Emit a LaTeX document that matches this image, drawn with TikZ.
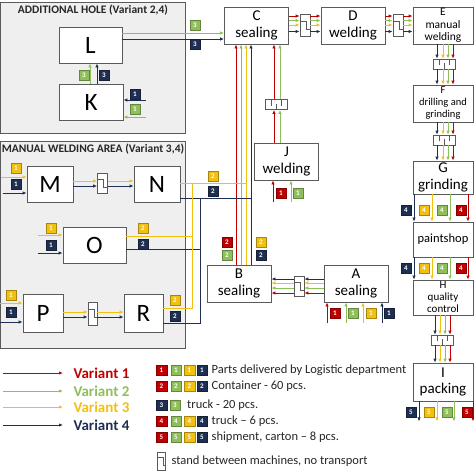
\documentclass[tikz,border=0pt]{standalone}
\usepackage{fontspec}
\setmainfont{Carlito}
\usetikzlibrary{arrows.meta,positioning}

\definecolor{vred}{HTML}{C00000}
\definecolor{vgreen}{HTML}{8FBF5A}
\definecolor{vyellow}{HTML}{F2C010}
\definecolor{vnavy}{HTML}{1F2F52}
\definecolor{areagray}{HTML}{EFEFEF}
\definecolor{boxline}{HTML}{5A5A5A}

\tikzset{
  flow/.style={line width=1pt, -{Latex[length=4pt,width=3.4pt]}},
  lane/.style={line width=1pt},
  c1/.style={draw=vred}, c2/.style={draw=vgreen},
  c3/.style={draw=vyellow}, c4/.style={draw=vnavy},
  area/.style={draw=boxline, fill=areagray, line width=0.8pt},
  areatitle/.style={font=\fontsize{11.5}{12}\selectfont\bfseries, text=black!85},
  machine/.style={draw=boxline, fill=white, line width=0.8pt, align=center,
    inner sep=0pt, font=\fontsize{15}{16.5}\selectfont},
  wide/.style={minimum width=64pt, minimum height=37pt},
  bigbox/.style={machine, font=\fontsize{25}{26}\selectfont},
  badge/.style={draw=#1!70!black, fill=#1, text=white,
    font=\fontsize{7}{7}\selectfont\bfseries, minimum size=10.5pt,
    inner sep=0pt, line width=0.4pt},
  standh/.style={draw=boxline, fill=white, line width=0.7pt, minimum width=10pt,
    minimum height=22pt, inner sep=0pt,
    path picture={\draw[boxline, line width=0.7pt]
      ([yshift=4pt]path picture bounding box.west) -- ++(6pt,0pt) -- ++(0pt,-8pt)
      -- ([yshift=-4pt]path picture bounding box.east);}},
  standv/.style={draw=boxline, fill=white, line width=0.7pt, minimum width=22pt,
    minimum height=10pt, inner sep=0pt,
    path picture={\draw[boxline, line width=0.7pt]
      ([xshift=-5pt]path picture bounding box.north) -- ++(0pt,-6pt)
      ([xshift=5pt]path picture bounding box.north) -- ++(0pt,-6pt)
      (path picture bounding box.south) -- ++(0pt,6pt);}},
  legendtxt/.style={font=\fontsize{12.5}{13}\selectfont, text=black!85, inner sep=0pt},
  legendvar/.style={font=\fontsize{15}{16}\selectfont\bfseries, inner sep=0pt}
}

\begin{document}
\begin{tikzpicture}[x=1pt,y=-1pt]
\useasboundingbox (0,0) rectangle (474,474);

% areas
\draw[area] (0.5,2.5) rectangle (185,133);
\node[areatitle] (tHole) at (93,10) {ADDITIONAL HOLE (Variant 2,4)};
\draw[area] (0.5,141) rectangle (185,348);
\node[areatitle] (tWeld) at (93,149) {MANUAL WELDING AREA (Variant 3,4)};

% machines
\node[bigbox, minimum width=63pt, minimum height=36pt] (L) at (90.5,45) {L};
\node[bigbox, minimum width=64pt, minimum height=36pt] (K) at (91,102) {K};
\node[bigbox, minimum width=46pt, minimum height=36pt] (M) at (50,184) {M};
\node[bigbox, minimum width=46pt, minimum height=36pt] (N) at (157,184) {N};
\node[bigbox, minimum width=63pt, minimum height=36pt] (O) at (94.5,245) {O};
\node[bigbox, minimum width=40pt, minimum height=38pt] (P) at (43,313) {P};
\node[bigbox, minimum width=39pt, minimum height=38pt] (R) at (143.5,313) {R};

\node[machine, wide] (C) at (256.5,25.5) {C\\sealing};
\node[machine, wide] (D) at (353,25.5) {D\\welding};
\node[machine, minimum width=60pt, minimum height=37pt,
  font=\fontsize{11.5}{12.5}\selectfont] (E) at (443,25.5) {E\\manual\\welding};
\node[machine, minimum width=60pt, minimum height=37pt,
  font=\fontsize{10.5}{12}\selectfont] (F) at (443,103.5) {F\\drilling and\\grinding};
\node[machine, minimum width=60pt, minimum height=33pt] (G) at (443,177.5) {G\\grinding};
\node[machine, minimum width=60pt, minimum height=35pt,
  font=\fontsize{12.5}{13}\selectfont] (paint) at (443,239.5) {paintshop};
\node[machine, minimum width=60pt, minimum height=35pt,
  font=\fontsize{11}{12}\selectfont] (H) at (443,297.5) {H\\quality\\control};
\node[machine, minimum width=60pt, minimum height=38pt] (I) at (443,382) {I\\packing};
\node[machine, wide] (J) at (286.5,161.5) {J\\welding};
\node[machine, wide] (B) at (239,283.5) {B\\sealing};
\node[machine, wide] (A) at (356,283.5) {A\\sealing};

% stands
\node[standh] (sCD) at (305,25.5) {};
\node[standh] (sDE) at (398,25.5) {};
\node[standv] (sEF) at (444,64) {};
\node[standv] (sFG) at (444,140) {};
\node[standv] (sHI) at (442,340) {};
\node[standv] (sJC) at (276.5,104.5) {};
\node[standh, minimum height=20pt] (sAB) at (299,286) {};
\node[standh, minimum height=20pt] (sMN) at (102.5,183.5) {};
\node[standh, minimum width=9pt, minimum height=23pt] (sPR) at (92.5,313.5) {};

% additional hole
\draw[flow,c4] ([xshift=23pt,yshift=2pt]K.east) -- ([yshift=2pt]K.east);
\draw[flow,c2] ([xshift=23pt,yshift=-15pt]K.east) -- ([yshift=-15pt]K.east);
\draw[flow,c2] ([xshift=-1pt]K.north) -- ([xshift=-1pt]K.north |- L.south);
\draw[flow,c4] ([xshift=6pt]K.north) -- ([xshift=6pt]K.north |- L.south);
\draw[flow,c2] ([yshift=12pt]L.east) -- ([yshift=12pt]L.east -| C.west);
\draw[flow,c4] ([yshift=6pt]L.east) -- ([yshift=6pt]L.east -| C.west);
\node[badge=vnavy] (bK1) at (135,94) {1};
\node[badge=vgreen] (bK2) at (135,109) {1};
\node[badge=vgreen] (bL1) at (84,75) {3};
\node[badge=vnavy] (bL2) at (104,75) {3};
\node[badge=vgreen] (bC1) at (195,25) {3};
\node[badge=vnavy] (bC2) at (195,44) {3};

% C - D - E
\foreach \c/\dy in {c1/9.5, c2/5, c3/0.5, c4/-6} {
  \draw[flow,\c] ([yshift=\dy pt]C.east) -- ([yshift=\dy pt]C.east -| sCD.west);
  \draw[flow,\c] ([yshift=\dy pt]C.east -| sCD.east) -- ([yshift=\dy pt]C.east -| D.west);
  \draw[flow,\c] ([yshift=\dy pt]D.east) -- ([yshift=\dy pt]D.east -| sDE.west);
  \draw[flow,\c] ([yshift=\dy pt]D.east -| sDE.east) -- ([yshift=\dy pt]D.east -| E.west);
}

% E - F - G
\foreach \c/\dx in {c4/-6, c3/0, c2/5, c1/10} {
  \draw[flow,\c] ([xshift=\dx pt]E.south) -- ([xshift=\dx pt]E.south |- sEF.north);
  \draw[flow,\c] ([xshift=\dx pt]E.south |- sEF.south) -- ([xshift=\dx pt]E.south |- F.north);
  \draw[flow,\c] ([xshift=\dx pt]F.south) -- ([xshift=\dx pt]F.south |- sFG.north);
  \draw[flow,\c] ([xshift=\dx pt]F.south |- sFG.south) -- ([xshift=\dx pt]F.south |- G.north);
}

% G - paintshop - H
\foreach \c/\dx in {c4/-29, c3/-11, c2/7, c1/25} {
  \draw[flow,\c] ([xshift=\dx pt]G.south) -- ([xshift=\dx pt]G.south |- paint.north);
  \draw[flow,\c] ([xshift=\dx pt]paint.south) -- ([xshift=\dx pt]paint.south |- H.north);
}
\foreach \col/\xx [count=\i] in {vnavy/406, vyellow/424, vgreen/442, vred/461} {
  \node[badge=\col] (bG\i) at (\xx,210) {4};
  \node[badge=\col] (bH\i) at (\xx,268) {4};
}

% H - I - out
\foreach \c/\dx in {c4/-8, c3/-3, c2/2, c1/7} {
  \draw[flow,\c] ([xshift=\dx pt]H.south) -- ([xshift=\dx pt]H.south |- sHI.north);
  \draw[flow,\c] ([xshift=\dx pt]H.south |- sHI.south) -- ([xshift=\dx pt]H.south |- I.north);
}
\foreach \c/\dx in {c4/-24, c3/-6, c2/11, c1/30}
  \draw[flow,\c] ([xshift=\dx pt]I.south) -- ([xshift=\dx pt,yshift=-20pt]I.south);
\foreach \col/\xx [count=\i] in {vnavy/411, vyellow/429, vgreen/447, vred/467}
  \node[badge=\col] (bI\i) at (\xx,412) {5};

% J - C
\foreach \c/\dx in {c1/-12.5, c2/-6.5} {
  \draw[flow,\c] ([xshift=\dx pt]J.north) -- ([xshift=\dx pt]J.north |- sJC.south);
  \draw[flow,\c] ([xshift=\dx pt]J.north |- sJC.north) -- ([xshift=\dx pt]J.north |- C.south);
}
\draw[flow,c1] ([xshift=-13.5pt,yshift=-22pt]J.south) -- ([xshift=-13.5pt]J.south);
\draw[flow,c2] ([xshift=4.5pt,yshift=-22pt]J.south) -- ([xshift=4.5pt]J.south);
\node[badge=vred] (bJ1) at (281,193) {1};
\node[badge=vgreen] (bJ2) at (298,193) {1};

% A - B - C
\foreach \c/\dy in {c4/4.5, c3/0.5, c2/-4.5, c1/-9.5} {
  \draw[flow,\c] ([yshift=\dy pt]A.west) -- ([yshift=\dy pt]A.west -| sAB.east);
  \draw[flow,\c] ([yshift=\dy pt]A.west -| sAB.west) -- ([yshift=\dy pt]A.west -| B.east);
}
\foreach \c/\dx in {c1/-29, c2/-10, c3/7, c4/26}
  \draw[flow,\c] ([xshift=\dx pt,yshift=-21pt]A.south) -- ([xshift=\dx pt]A.south);
\foreach \col/\xx [count=\i] in {vred/335, vgreen/353, vyellow/371, vnavy/389}
  \node[badge=\col] (bA\i) at (\xx,313) {1};
\foreach \c/\dx in {c1/-3, c2/2, c3/7, c4/12}
  \draw[flow,\c] ([xshift=\dx pt]B.north) -- ([xshift=\dx pt]B.north |- C.south);
\node[badge=vred] (bB1) at (227,242) {2};
\node[badge=vgreen] (bB2) at (227,255) {2};
\node[badge=vyellow] (bB3) at (261,242) {2};
\node[badge=vnavy] (bB4) at (261,255) {2};

% manual welding area
\coordinate (lnY) at ([xshift=7pt]B.north);
\coordinate (lnD) at ([xshift=12pt]B.north);
\coordinate (trY) at ([xshift=12pt,yshift=1pt]N.east);
\coordinate (trD) at ([xshift=20pt,yshift=-14pt]N.east);
\draw[flow,c3] ([xshift=-26pt,yshift=7pt]M.west) -- ([yshift=7pt]M.west);
\draw[flow,c4] ([xshift=-24pt,yshift=-9pt]M.west) -- ([yshift=-9pt]M.west);
\foreach \c/\dy in {c3/3, c4/-2} {
  \draw[flow,\c] ([yshift=\dy pt]M.east) -- ([yshift=\dy pt]M.east -| sMN.west);
  \draw[flow,\c] ([yshift=\dy pt]M.east -| sMN.east) -- ([yshift=\dy pt]M.east -| N.west);
}
\draw[flow,c3] ([xshift=-25pt,yshift=10pt]O.west) -- ([yshift=10pt]O.west);
\draw[flow,c4] ([xshift=-25pt,yshift=-8pt]O.west) -- ([yshift=-8pt]O.west);
\draw[flow,c3] ([xshift=-23pt,yshift=10pt]P.west) -- ([yshift=10pt]P.west);
\draw[flow,c4] ([xshift=-23pt,yshift=-9pt]P.west) -- ([yshift=-9pt]P.west);
\foreach \c/\dy in {c3/1, c4/-4} {
  \draw[flow,\c] ([yshift=\dy pt]P.east) -- ([yshift=\dy pt]P.east -| sPR.west);
  \draw[flow,\c] ([yshift=\dy pt]P.east -| sPR.east) -- ([yshift=\dy pt]P.east -| R.west);
}
\draw[lane,c3] ([yshift=1pt]N.east) -- ([yshift=1pt]N.east -| lnY);
\draw[lane,c4] ([yshift=-14pt]N.east) -- ([yshift=-14pt]N.east -| lnD);
\draw[lane,c3] ([yshift=9pt]O.east) -- ([yshift=9pt]O.east -| trY);
\draw[lane,c4] ([yshift=-4pt]O.east) -- ([yshift=-4pt]O.east -| trD);
\draw[lane,c3] ([yshift=5pt]R.east) -- ([yshift=5pt]R.east -| trY) -- (trY);
\draw[lane,c4] ([yshift=-10pt]R.east) -- ([yshift=-10pt]R.east -| trD) -- (trD);
\node[badge=vyellow] (bM1) at (16,168) {1};
\node[badge=vnavy] (bM2) at (16,184) {1};
\node[badge=vyellow] (bO1) at (51,228) {1};
\node[badge=vnavy] (bO2) at (51,245) {1};
\node[badge=vyellow] (bO3) at (143,228) {2};
\node[badge=vnavy] (bO4) at (143,244) {2};
\node[badge=vyellow] (bP1) at (11,295) {1};
\node[badge=vnavy] (bP2) at (11,312) {1};
\node[badge=vyellow] (bR1) at (175,300) {2};
\node[badge=vnavy] (bR2) at (175,316) {2};
\node[badge=vyellow] (bN1) at (213,176) {2};
\node[badge=vnavy] (bN2) at (213,191) {2};

% legend
\foreach \i/\col/\yy in {1/vred/373, 2/vgreen/391, 3/vyellow/407, 4/vnavy/425} {
  \coordinate (lg\i) at (3,\yy);
  \draw[flow, draw=\col] (lg\i) -- ++(60,0)
    node[right=10pt, legendvar, text=\col] (lgt\i) {Variant \i};
}
\foreach \n/\yy/\txt in {1/370/Parts delivered by Logistic department,
    2/386/Container - 60 pcs., 4/421/truck – 6 pcs., 5/437/{shipment, carton – 8 pcs.}} {
  \node[badge=vred] (kr\n) at (161.5,\yy) {\n};
  \node[badge=vgreen] (kg\n) at (176,\yy) {\n};
  \node[badge=vyellow] (ky\n) at (189.5,\yy) {\n};
  \node[badge=vnavy] (kd\n) at (202,\yy) {\n};
  \node[legendtxt, right=4pt of kd\n] (kt\n) {\txt};
}
\node[badge=vnavy] (kd3) at (161.5,405) {3};
\node[badge=vgreen] (kg3) at (175,405) {3};
\node[legendtxt, anchor=west] (kt3) at (187,405) {truck - 20 pcs.};
\node[standh, minimum width=8pt, minimum height=18pt] (kst) at (161,461) {};
\node[legendtxt, right=6pt of kst] (kt6) {stand between machines, no transport};
\end{tikzpicture}
\end{document}
